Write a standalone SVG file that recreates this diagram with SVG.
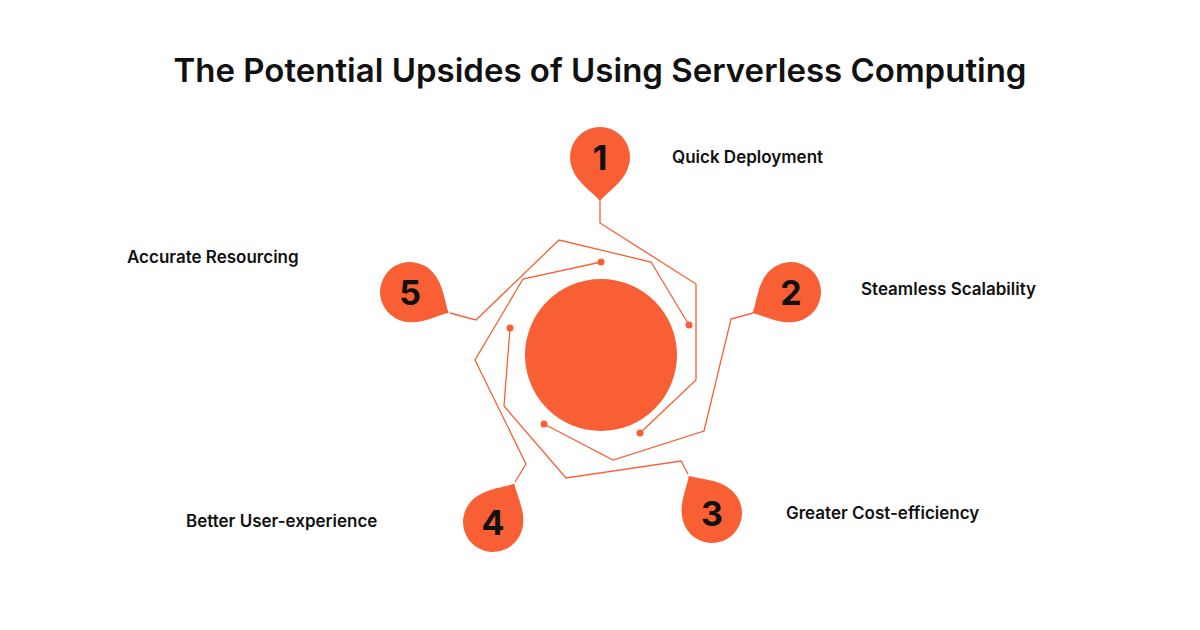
<svg xmlns="http://www.w3.org/2000/svg" width="1200" height="630" viewBox="0 0 1200 630">
<defs>
<style>
.pin{fill:#F95F35}
.num{font-family:Inter,"Liberation Sans",sans-serif;font-weight:700;font-size:34px;fill:#111;text-anchor:middle}
.lbl{font-family:Inter,"Liberation Sans",sans-serif;font-weight:600;font-size:17px;fill:#111}
.ln{fill:none;stroke:#F95F35;stroke-width:1.3}
.dot{fill:#F95F35}
</style>
<path id="drop" d="M0 44 C-8 34 -30 22 -30 0 A30 30 0 1 1 30 0 C30 22 8 34 0 44 Z"/>
</defs>
<rect width="1200" height="630" fill="#fff"/>
<text x="600" y="82" text-anchor="middle" font-family="Inter,'Liberation Sans',sans-serif" font-weight="600" font-size="33" fill="#111">The Potential Upsides of Using Serverless Computing</text>
<g id="connectors">
<polyline class="ln" points="600,201 600,223 696,284 696,380 640,433"/>
<polyline class="ln" points="753,313 731,319 704,431 613,460 544,424"/>
<polyline class="ln" points="688,474 681,461 566,478 504,406 510,328"/>
<polyline class="ln" points="515,482 526,464 475,360 523,279 601,262"/>
<polyline class="ln" points="450,313 476,320 559,240 651,262 689,325"/>
<circle class="dot" cx="640" cy="433" r="3.5"/>
<circle class="dot" cx="544" cy="424" r="3.5"/>
<circle class="dot" cx="510" cy="328" r="3.5"/>
<circle class="dot" cx="601" cy="262" r="3.5"/>
<circle class="dot" cx="689" cy="325" r="3.5"/>
</g>
<g id="center"><circle cx="601" cy="355" r="76" class="pin"/></g>
<g id="n1"><use href="#drop" class="pin" transform="translate(600,157)"/><text class="num" x="600" y="170">1</text><text class="lbl" x="672" y="163">Quick Deployment</text></g>
<g id="n2"><use href="#drop" class="pin" transform="translate(791,292) rotate(61)"/><text class="num" x="791" y="305">2</text><text class="lbl" x="861" y="295">Steamless Scalability</text></g>
<g id="n3"><use href="#drop" class="pin" transform="translate(712,513) rotate(148)"/><text class="num" x="712" y="526">3</text><text class="lbl" x="786" y="519">Greater Cost-efficiency</text></g>
<g id="n4"><use href="#drop" class="pin" transform="translate(493,522) rotate(-151)"/><text class="num" x="493" y="535">4</text><text class="lbl" x="186" y="527">Better User-experience</text></g>
<g id="n5"><use href="#drop" class="pin" transform="translate(410,292) rotate(-62)"/><text class="num" x="410" y="305">5</text><text class="lbl" x="127" y="263">Accurate Resourcing</text></g>
</svg>
